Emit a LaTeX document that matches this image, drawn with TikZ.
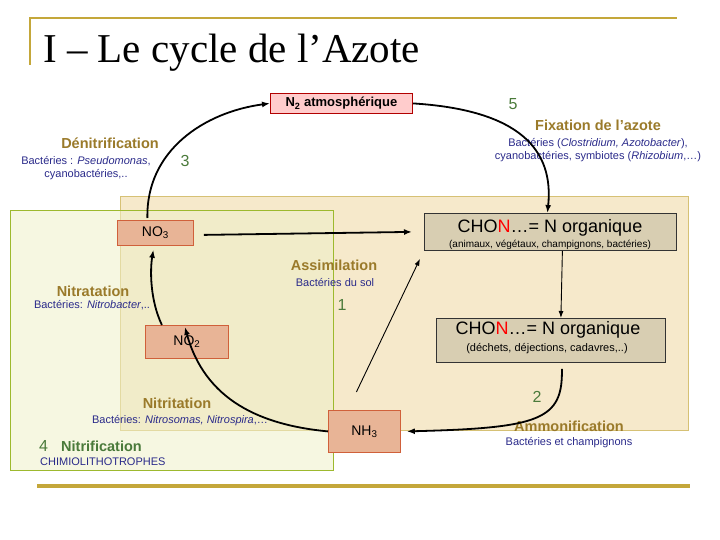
\documentclass[tikz,border=0pt]{standalone}
\usepackage{fontspec}
\setmainfont{Liberation Sans}
\newfontfamily\tnr{Liberation Serif}
\usetikzlibrary{arrows.meta}
\definecolor{gold}{HTML}{C4A73A}
\definecolor{head}{HTML}{9A7A2A}
\definecolor{blu}{HTML}{2A2A8A}
\definecolor{grn}{HTML}{4A7A3A}
\definecolor{beige}{HTML}{F6E9CB}
\definecolor{lgreen}{HTML}{EEF0C8}
\definecolor{orbox}{HTML}{E8B496}
\definecolor{orline}{HTML}{D0603A}
\definecolor{chbox}{HTML}{D8CEB2}
\begin{document}
\begin{tikzpicture}[x=1pt,y=-1pt,
 box/.style={draw=#1,line width=0.8pt,inner sep=0pt,anchor=north west},
 hd/.style={text=head,font=\bfseries\fontsize{14.5}{16}\selectfont,inner sep=0pt},
 bl/.style={text=blu,font=\fontsize{11}{13}\selectfont,inner sep=0pt,align=center},
 nm/.style={text=grn,font=\fontsize{16}{17}\selectfont,inner sep=0pt},
 arr/.style={-{Latex[length=8pt,width=6pt]},line width=1.8pt},
 thin/.style={-{Latex[length=7pt,width=5pt]},line width=0.9pt}]
\useasboundingbox (0,0) rectangle (720,540);
\draw[gold,line width=2pt] (30,65) -- (30,18) -- (677,18);
\draw[gold,line width=3.5pt] (37,486) -- (690,486);
\node[anchor=west,inner sep=0pt,font=\tnr\fontsize{41}{44}\selectfont] (title) at (43,53) {I – Le cycle de l’Azote};
% backgrounds
\fill[beige] (120,196) rectangle (688,430);
\draw[gold!70,line width=0.8pt] (120,196) rectangle (688,430);
\fill[lgreen,fill opacity=0.55] (10,210) rectangle (333,470);
\draw[gold!80!green,line width=0.8pt] (10,210) rectangle (333,470);
% boxes
\node[box=red!70!black,fill=red!20,minimum width=142,minimum height=20] (n2) at (270,93) {};
\node[font=\bfseries\fontsize{13}{14}\selectfont] at (n2.center) {N\textsubscript{2} atmosphérique};
\node[box=orline,fill=orbox,minimum width=76,minimum height=25] (no3) at (117,220) {};
\node[font=\fontsize{14}{15}\selectfont] at (no3.center) {NO\textsubscript{3}};
\node[box=black!80,fill=chbox,minimum width=252,minimum height=37] (c1) at (424,213) {};
\node[font=\fontsize{18}{19}\selectfont] at (550,228) {CHO\textcolor{red}{N}…= N organique};
\node[font=\fontsize{10}{11}\selectfont] at (550,245) {(animaux, végétaux, champignons, bactéries)};
\node[box=black!80,fill=chbox,minimum width=229,minimum height=44] (c2) at (436,318) {};
\node[font=\fontsize{18}{19}\selectfont] at (548,330) {CHO\textcolor{red}{N}…= N organique};
\node[font=\fontsize{11}{12}\selectfont] at (547,349) {(déchets, déjections, cadavres,..)};
\node[box=orline,fill=orbox,minimum width=83,minimum height=33] (no2) at (145,325) {};
\node[font=\fontsize{14}{15}\selectfont] at (no2.center) {NO\textsubscript{2}};
\node[box=orline,fill=orbox,minimum width=72,minimum height=42] (nh3) at (328,410) {};
\node[font=\fontsize{14}{15}\selectfont] at (nh3.center) {NH\textsubscript{3}};
% labels
\node[hd] (den) at (110,143) {Dénitrification};
\node[bl] (denb) at (86,168) {Bactéries : \textit{Pseudomonas},\\cyanobactéries,..};
\node[nm] (n3) at (185,161) {3};
\node[nm] (n5) at (513,104) {5};
\node[hd] (fix) at (598,125) {Fixation de l'azote};
\node[bl] (fixb) at (598,150) {Bactéries (\textit{Clostridium, Azotobacter}),\\cyanobactéries, symbiotes (\textit{Rhizobium},…)};
\node[hd] (ass) at (334,265) {Assimilation};
\node[bl] (assb) at (335,283) {Bactéries du sol};
\node[nm] (n1) at (342,305) {1};
\node[hd] (nta) at (93,291) {Nitratation};
\node[bl] (ntab) at (92,305) {Bactéries: \textit{Nitrobacter},..};
\node[hd] (nti) at (177,403) {Nitritation};
\node[bl] (ntib) at (180,421) {Bactéries: \textit{Nitrosomas, Nitrospira},…};
\node[nm,anchor=west] (n4) at (39,446) {4};
\node[hd,text=grn,anchor=west] (nif) at (61,446) {Nitrification};
\node[bl,anchor=west] (chim) at (40,462) {CHIMIOLITHOTROPHES};
\node[nm] (n2n) at (537,397) {2};
\node[hd] (amm) at (569,426) {Ammonification};
\node[bl] (ammb) at (569,443) {Bactéries et champignons};
% connectors
\draw[arr] (no3.north) ++(-8,-2) .. controls (146,150) and (205,112) .. (n2.west);
\draw[arr] (n2.east) .. controls (520,110) and (554,150) .. ([xshift=-3pt]c1.north);
\draw[arr] (no3.east) ++(10,2) -- ([xshift=-12pt]c1.west);
\draw[thin] ([xshift=-8pt,yshift=18pt]nh3.north) -- ([xshift=-4pt,yshift=-8pt]c1.south west);
\draw[thin] ([xshift=12pt]c1.south) -- ([xshift=10pt]c2.north);
\draw[arr] ([xshift=11pt,yshift=-6pt]c2.south) .. controls (563,420) and (540,428) .. ([xshift=6pt]nh3.east);
\draw[arr] (nh3.west) .. controls (260,425) and (205,400) .. ([xshift=-2pt,yshift=-2pt]no2.north);
\draw[arr] ([xshift=-25pt]no2.north) .. controls (150,300) and (150,270) .. ([xshift=-2pt,yshift=-4pt]no3.south);
\end{tikzpicture}
\end{document}
